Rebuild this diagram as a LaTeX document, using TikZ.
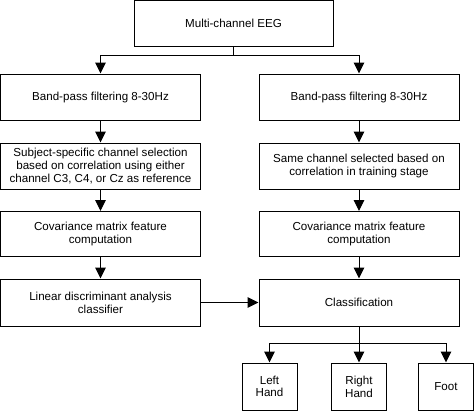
\documentclass[tikz,border=0pt]{standalone}
\usepackage{fontspec}
\setmainfont{Liberation Sans}
\usetikzlibrary{arrows.meta}
\begin{document}
\begin{tikzpicture}[x=1pt,y=-1pt,
  box/.style={draw, line width=1pt, inner sep=0pt, align=center,
    font=\fontsize{11.6}{12.7}\selectfont},
  wide/.style={box, minimum width=200pt, minimum height=46pt},
  small/.style={box, minimum width=55pt, minimum height=47pt},
  arr/.style={-{Triangle[length=11pt,width=10.5pt]}, line width=1pt},
  ln/.style={line width=1pt}]
\useasboundingbox (0,0) rectangle (474,410);
\clip (0,0) rectangle (474,410);
\node[box, minimum width=199pt, minimum height=46pt] (eeg) at (233.5,23.3) {Multi-channel EEG};
\node[wide] (bpL) at (100.5,97) {Band-pass filtering 8-30Hz};
\node[wide] (bpR) at (359,97) {Band-pass filtering 8-30Hz};
\node[wide] (selL) at (100.5,166) {Subject-specific channel selection\\based on correlation using either\\channel C3, C4, or Cz as reference};
\node[wide] (selR) at (359,166) {Same channel selected based on\\correlation in training stage};
\node[wide, minimum height=45pt] (covL) at (100.5,234) {Covariance matrix feature\\computation};
\node[wide, minimum height=45pt] (covR) at (359,234) {Covariance matrix feature\\computation};
\node[wide, minimum height=47pt] (lda) at (100.5,302.5) {Linear discriminant analysis\\classifier};
\node[wide, minimum height=47pt] (cls) at (359,302.5) {Classification};
\node[small] (lh) at (269.5,386.5) {Left\\Hand};
\node[small] (rh) at (359,386.5) {Right\\Hand};
\node[small] (ft) at (446,386.5) {Foot};
\coordinate (j1) at (233.5,55);
\coordinate (j2) at (359,343);
\draw[ln] (eeg.south) -- (j1);
\draw[arr] (j1) -| (bpL.north);
\draw[arr] (j1) -| (bpR.north);
\draw[arr] (bpL.south) -- (selL.north);
\draw[arr] (bpR.south) -- (selR.north);
\draw[arr] (selL.south) -- (covL.north);
\draw[arr] (selR.south) -- (covR.north);
\draw[arr] (covL.south) -- (lda.north);
\draw[arr] (covR.south) -- (cls.north);
\draw[arr] (lda.east) -- (cls.west);
\draw[ln] (cls.south) -- (j2);
\draw[arr] (j2) -| (lh.north);
\draw[arr] (j2) -- (rh.north);
\draw[arr] (j2) -| (ft.north);
\end{tikzpicture}
\end{document}
